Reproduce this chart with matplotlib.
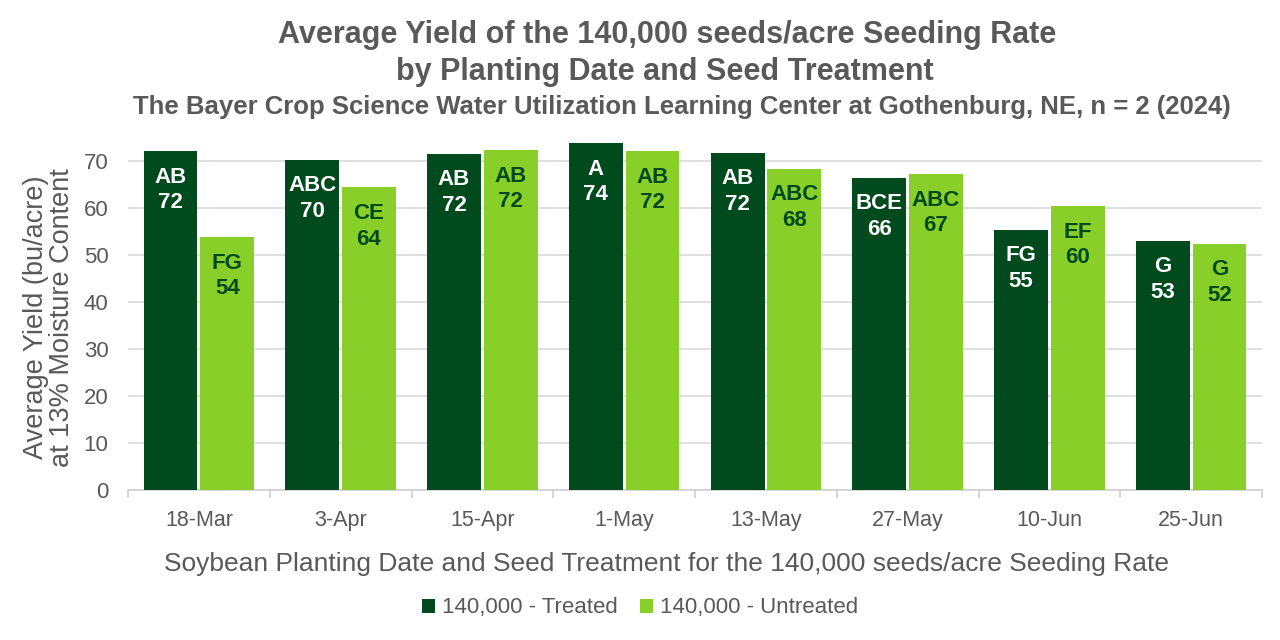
import numpy as np
import matplotlib.pyplot as plt

plt.rcParams['font.family'] = ['Liberation Sans', 'DejaVu Sans']

dates = ["18-Mar", "3-Apr", "15-Apr", "1-May", "13-May", "27-May", "10-Jun", "25-Jun"]
treated = [72.1, 70.2, 71.5, 73.8, 71.7, 66.4, 55.4, 53.0]
untreated = [53.8, 64.4, 72.3, 72.1, 68.3, 67.2, 60.4, 52.4]
treated_letters = ["AB", "ABC", "AB", "A", "AB", "BCE", "FG", "G"]
untreated_letters = ["FG", "CE", "AB", "AB", "ABC", "ABC", "EF", "G"]

dark = "#004A1D"
light = "#88CF2A"
gray = "#595959"

fig = plt.figure(figsize=(12.8, 6.4), dpi=100)
ax = fig.add_axes([0.1, 0.234, 0.886, 0.551])

x = np.arange(len(dates))
w = 0.38
b1 = ax.bar(x - 0.2, treated, w, color=dark, label="140,000 - Treated", zorder=3)
b2 = ax.bar(x + 0.2, untreated, w, color=light, label="140,000 - Untreated", zorder=3)

for bars, vals, letters, col in [(b1, treated, treated_letters, "white"),
                                 (b2, untreated, untreated_letters, dark)]:
    for bar, v, let in zip(bars, vals, letters):
        ax.annotate(f"{let}\n{v:.0f}", (bar.get_x() + bar.get_width() / 2, v),
                    xytext=(0, -11), textcoords="offset points",
                    ha="center", va="top", color=col, fontsize=16,
                    fontweight="bold", linespacing=1.3, zorder=4)

ax.set_ylim(0, 75)
ax.set_xlim(-0.5, len(dates) - 0.5)
ax.set_yticks(range(0, 80, 10))
ax.yaxis.grid(True, color="#d9d9d9", linewidth=1.2, zorder=0)
ax.set_xticks(x)
ax.set_xticklabels(dates)
ax.set_xticks(np.arange(-0.5, len(dates)), minor=True)
ax.tick_params(axis="x", which="major", length=0, pad=14, labelsize=15.5, labelcolor=gray)
ax.tick_params(axis="x", which="minor", length=6, color="#d0d0d0", width=1.2)
ax.tick_params(axis="y", length=0, pad=14, labelsize=16, labelcolor=gray)
for s in ["top", "right", "left"]:
    ax.spines[s].set_visible(False)
ax.spines["bottom"].set_color("#d0d0d0")
ax.spines["bottom"].set_linewidth(1.2)

ax.set_ylabel("Average Yield (bu/acre)\nat 13% Moisture Content", fontsize=19.5,
              color=gray, linespacing=1.0)
ax.yaxis.set_label_coords(-0.047, 0.49)
ax.set_xlabel("Soybean Planting Date and Seed Treatment for the 140,000 seeds/acre Seeding Rate",
              fontsize=19, color=gray)
ax.xaxis.set_label_coords(0.475, -0.175)

fig.text(0.521, 0.945, "Average Yield of the 140,000 seeds/acre Seeding Rate",
         ha="center", va="center", fontsize=22, fontweight="bold", color=gray)
fig.text(0.519, 0.887, "by Planting Date and Seed Treatment",
         ha="center", va="center", fontsize=22, fontweight="bold", color=gray)
fig.text(0.533, 0.833, "The Bayer Crop Science Water Utilization Learning Center at Gothenburg, NE, n = 2 (2024)",
         ha="center", va="center", fontsize=18.5, fontweight="bold", color=gray)

fig.legend(loc="center", bbox_to_anchor=(0.5, 0.05), ncol=2, frameon=False,
           fontsize=16, labelcolor=gray, handlelength=0.6, handleheight=0.6,
           handletextpad=0.3, columnspacing=1.0)

fig.savefig("out.png", dpi=100)
